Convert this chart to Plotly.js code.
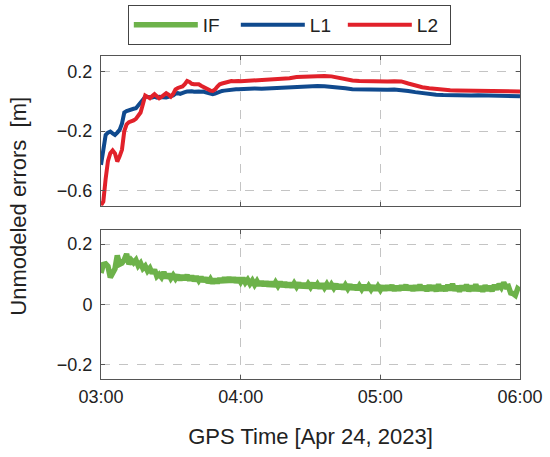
<!DOCTYPE html>
<html><head><meta charset="utf-8">
<script src="https://cdn.plot.ly/plotly-3.0.1.min.js"></script>
<style>body{margin:0;background:#fff}</style>
</head><body><div id="chart" style="width:550px;height:457px"></div>
<script>
// minutes after 03:00 GPS time
const tTop = [0,1,2,3,4,5,6,7,8,9,10,11,12,13,14,15,16,17,18,19,20,21,22,23,24,25,26,27,28,29,30,
  31,32,33,34,35,36,37,38,39,40,41,42,43,44,45,46,47,48,49,50,51,52,53,54,55,56,57,58,59,60,
  63,66,69,72,75,78,81,84,87,90,93,96,99,102,105,108,111,114,117,120,123,126,129,132,135,138,141,144,147,150,153,156,159,162,165,168,171,174,177,180];
const L1 = [-0.427,-0.33,-0.226,-0.21,-0.203,-0.215,-0.226,-0.21,-0.192,-0.15,-0.075,-0.065,-0.058,-0.055,-0.05,-0.046,-0.03,-0.008,0.01,0.032,0.028,
  0.03,0.026,0.03,0.025,0.03,0.028,0.032,0.026,0.03,0.033,0.04,0.052,0.055,0.05,0.058,0.062,0.066,0.07,0.068,0.065,
  0.068,0.066,0.064,0.066,0.06,0.055,0.05,0.048,0.052,0.06,0.066,0.07,0.072,0.075,0.077,0.078,0.08,0.082,0.082,0.083,
  0.086,0.087,0.085,0.088,0.09,0.092,0.094,0.097,0.099,0.101,0.104,0.102,0.099,0.095,0.088,0.082,0.08,0.078,0.077,0.077,
  0.078,0.079,0.077,0.07,0.062,0.055,0.05,0.045,0.042,0.04,0.039,0.04,0.039,0.041,0.039,0.038,0.039,0.037,0.036,0.034];
const L2 = [-0.70,-0.674,-0.52,-0.40,-0.349,-0.33,-0.35,-0.405,-0.37,-0.326,-0.2,-0.155,-0.14,-0.135,-0.128,-0.118,-0.1,-0.075,-0.02,0.039,0.03,
  0.021,0.035,0.048,0.035,0.021,0.03,0.045,0.055,0.045,0.032,0.05,0.08,0.09,0.095,0.1,0.115,0.137,0.13,0.118,0.115,
  0.118,0.115,0.105,0.095,0.088,0.08,0.072,0.07,0.08,0.1,0.115,0.12,0.125,0.13,0.135,0.137,0.136,0.138,0.137,0.135,
  0.138,0.14,0.142,0.145,0.148,0.15,0.155,0.163,0.166,0.168,0.17,0.171,0.168,0.158,0.146,0.14,0.137,0.135,0.134,0.133,
  0.134,0.135,0.134,0.12,0.104,0.095,0.088,0.082,0.077,0.074,0.073,0.072,0.073,0.072,0.071,0.07,0.07,0.069,0.068,0.066];
const tIF = [0,1,2,3,4,5,6,7,8,9,10,11,12,13,14,15,16,17,18,19,20,21,22,23,24,25,26,27,28,29,30,31,32,33,34,35,36,37,38,39,40,
  41,42,43,44,45,46,47,48,49,50,51,52,53,54,55,56,57,58,59,60,61,62,63,64,65,66,67,68,69,70,71,72,73,74,75,76,77,78,79,80,
  81,82,83,84,85,86,87,88,89,90,91,92,93,94,95,96,97,98,99,100,101,102,103,104,105,106,107,108,109,110,111,112,113,114,115,116,117,118,119,120,
  121,122,123,124,125,126,127,128,129,130,131,132,133,134,135,136,137,138,139,140,141,142,143,144,145,146,147,148,149,150,
  151,152,153,154,155,156,157,158,159,160,161,162,163,164,165,166,167,168,169,170,171,172,173,174,175,176,177,178,179,180];
const IF = [0.104,0.132,0.134,0.126,0.089,0.102,0.118,0.162,0.133,0.137,0.148,0.167,0.133,0.147,0.138,0.147,0.128,0.137,0.119,0.127,
  0.111,0.12,0.103,0.115,0.093,0.1,0.09,0.107,0.087,0.101,0.086,0.097,0.085,0.097,0.081,0.096,0.082,0.097,0.08,0.094,
  0.078,0.092,0.079,0.091,0.076,0.088,0.072,0.084,0.07,0.084,0.071,0.086,0.073,0.088,0.074,0.089,0.075,0.088,0.073,0.087,
  0.074,0.087,0.072,0.082,0.068,0.079,0.065,0.077,0.063,0.076,0.062,0.075,0.061,0.074,0.06,0.073,0.061,0.074,0.059,0.072,
  0.058,0.071,0.057,0.07,0.058,0.071,0.056,0.069,0.055,0.068,0.057,0.07,0.055,0.067,0.054,0.068,0.055,0.067,0.053,0.066,
  0.054,0.067,0.052,0.065,0.051,0.064,0.052,0.065,0.05,0.063,0.049,0.062,0.05,0.063,0.048,0.061,0.049,0.062,0.047,0.06,
  0.048,0.061,0.047,0.062,0.048,0.063,0.046,0.06,0.047,0.062,0.049,0.064,0.048,0.061,0.046,0.062,0.047,0.065,0.048,0.06,
  0.045,0.063,0.047,0.062,0.044,0.066,0.046,0.06,0.045,0.064,0.047,0.068,0.046,0.061,0.043,0.062,0.047,0.065,0.044,0.061,
  0.046,0.066,0.045,0.06,0.043,0.063,0.046,0.06,0.044,0.064,0.05,0.067,0.056,0.072,0.058,0.06,0.038,0.036,0.03,0.052,0.046];
const xTickVals = [0,60,120,180];
const xTickText = ['03:00','04:00','05:00','06:00'];
const yTopTicks = [-0.6,-0.2,0.2];
const yBotTicks = [-0.2,0,0.2];

const FONT = 'Liberation Sans, Arial, Helvetica, sans-serif';
const cGreen = '#6db24a', cBlue = '#104a8e', cRed = '#e1212a';
const frame = '#555555', grid = '#c4c4c4';

const traces = [
  {x: tIF, y: IF, name: 'IF', xaxis: 'x', yaxis: 'y', mode: 'lines', line: {color: cGreen, width: 5.5}},
  {x: tTop, y: L1, name: 'L1', xaxis: 'x2', yaxis: 'y2', mode: 'lines', line: {color: cBlue, width: 4}},
  {x: tTop, y: L2, name: 'L2', xaxis: 'x2', yaxis: 'y2', mode: 'lines', line: {color: cRed, width: 4}}
];

const axCommon = {
  showline: true, linecolor: frame, linewidth: 1, mirror: 'ticks',
  ticks: 'inside', ticklen: 4, tickcolor: frame,
  showgrid: true, gridcolor: grid, griddash: 'dash', gridwidth: 1,
  zeroline: false, tickfont: {family: FONT, size: 18, color: '#222'}
};

const layout = {
  width: 550, height: 457,
  margin: {l: 101, r: 30, t: 56, b: 78, autoexpand: false},
  paper_bgcolor: '#fff', plot_bgcolor: '#fff',
  font: {family: FONT, size: 18, color: '#222'},
  showlegend: true,
  legend: {orientation: 'h', x: 0.064, xanchor: 'left', y: 1.158, yanchor: 'top',
           bordercolor: '#444', borderwidth: 1, bgcolor: '#fff', itemwidth: 64,
           entrywidth: 28, entrywidthmode: 'pixels',
           font: {family: FONT, size: 19, color: '#222'}},
  xaxis: Object.assign({}, axCommon, {anchor: 'y', range: [0, 180], tickmode: 'array',
    tickvals: xTickVals, ticktext: xTickText, ticklabelstandoff: 1,
    title: {text: 'GPS Time [Apr 24, 2023]', font: {family: FONT, size: 22, color: '#222'}, standoff: 23}}),
  xaxis2: Object.assign({}, axCommon, {anchor: 'y2', range: [0, 180], tickmode: 'array',
    tickvals: xTickVals, showticklabels: false, matches: 'x'}),
  yaxis: Object.assign({}, axCommon, {domain: [0, 0.46], range: [-0.247, 0.245], tickmode: 'array',
    tickvals: yBotTicks, ticktext: ['\u22120.2','0','0.2'], ticklabelstandoff: 4}),
  yaxis2: Object.assign({}, axCommon, {domain: [0.536, 1], range: [-0.703, 0.305], tickmode: 'array',
    tickvals: yTopTicks, ticktext: ['\u22120.6','\u22120.2','0.2'], ticklabelstandoff: 4}),
  annotations: [{
    text: 'Unmodeled errors\u00a0 [m]', xref: 'paper', yref: 'paper', x: -0.196, y: 0.536,
    xanchor: 'center', yanchor: 'middle', textangle: -90, showarrow: false,
    font: {family: FONT, size: 22, color: '#222'}
  }]
};

Plotly.newPlot('chart', traces, layout, {displayModeBar: false, staticPlot: true});
</script></body></html>
